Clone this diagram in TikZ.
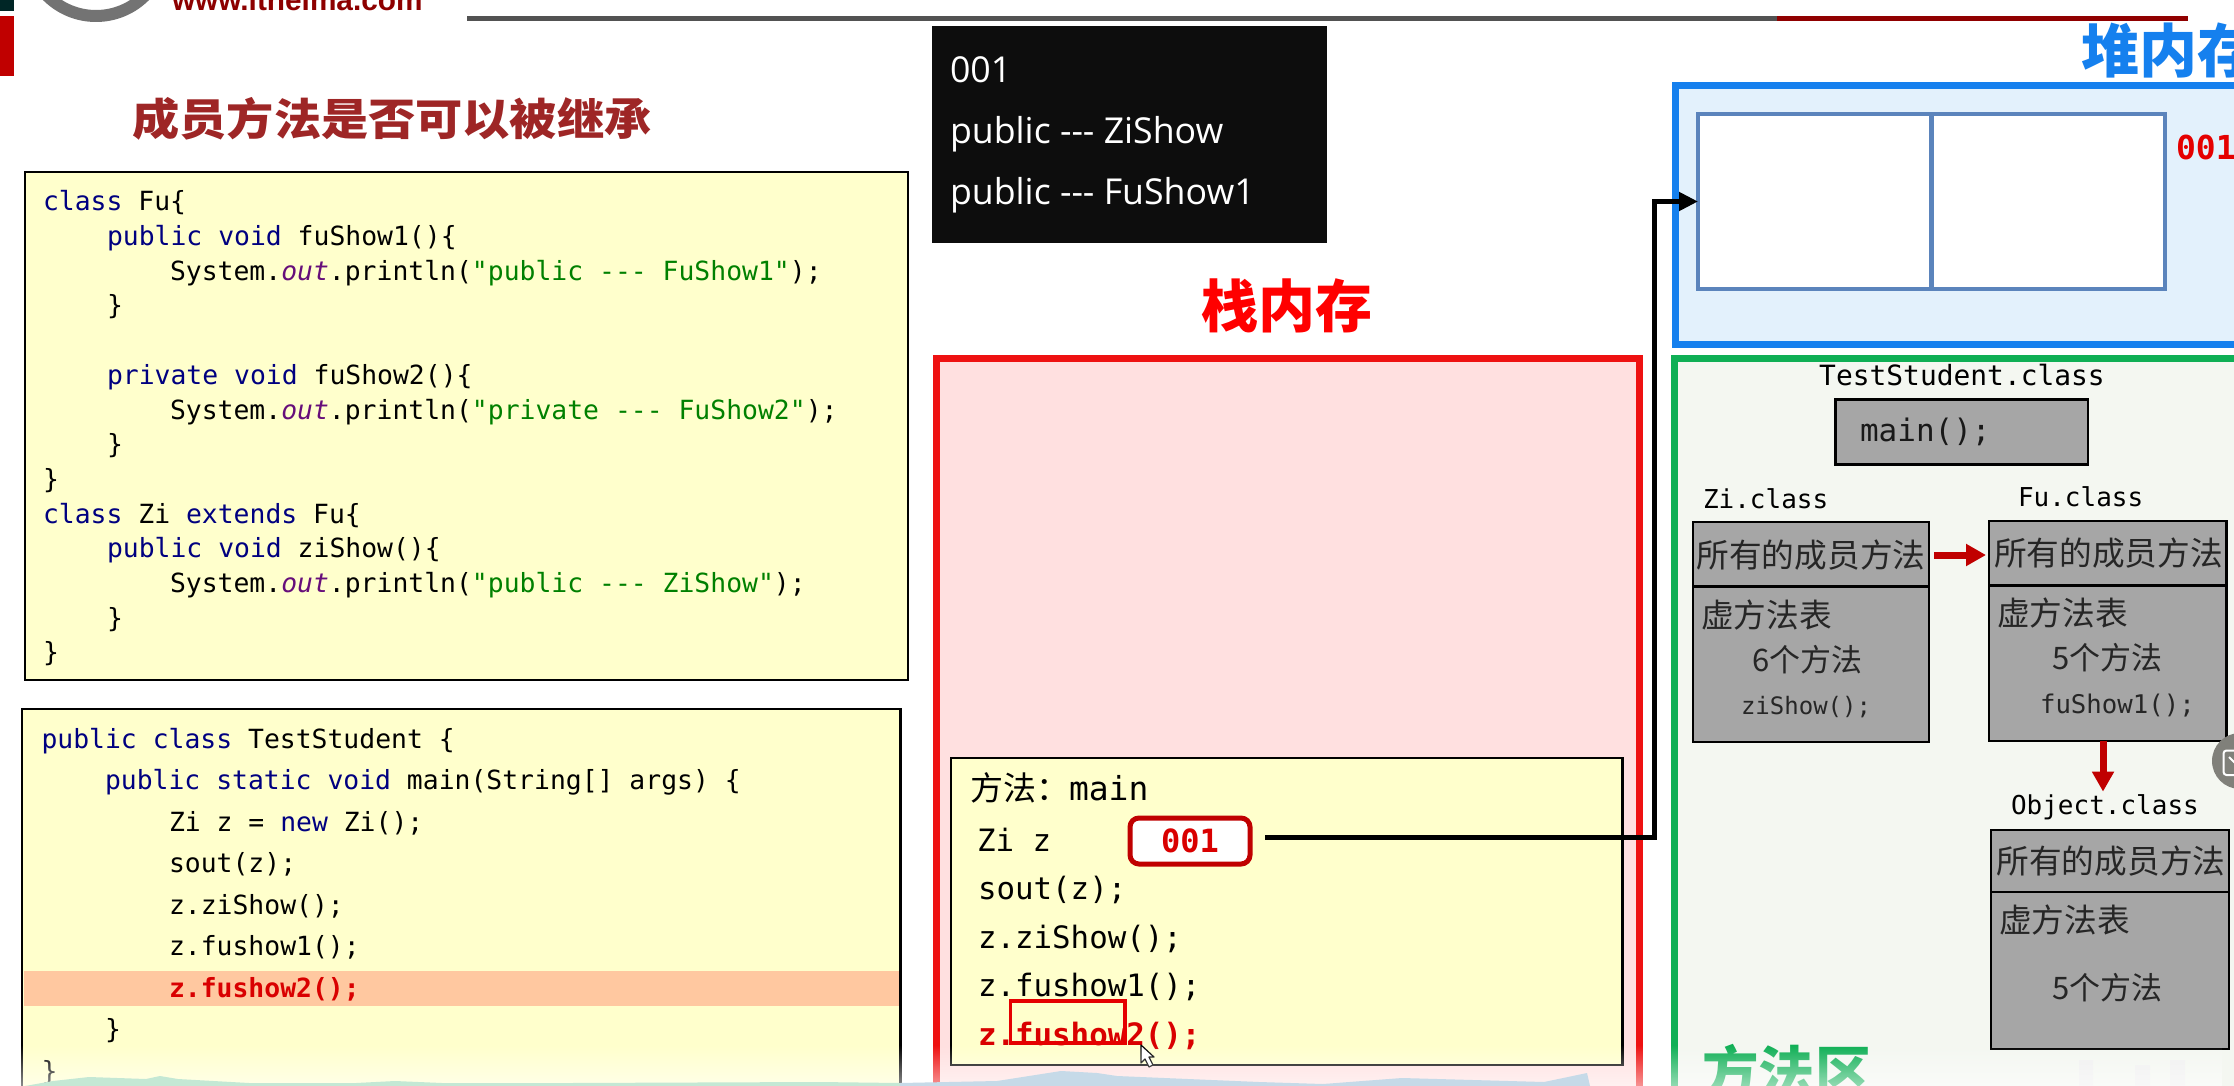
\documentclass[tikz,border=0pt]{standalone}
\usepackage{fontspec}
\usetikzlibrary{fadings,arrows.meta}
\setmainfont{Liberation Sans}
\setmonofont{DejaVu Sans Mono}
\newfontfamily\cjk{Noto Sans CJK SC}
\newfontfamily\cjkt[FakeStretch=1.08]{Noto Sans CJK SC}
\newfontfamily\consf{Open Sans}
\definecolor{kwc}{HTML}{000080}
\definecolor{strc}{HTML}{008000}
\definecolor{outc}{HTML}{660E7A}
\definecolor{yel}{HTML}{FFFFCC}
\definecolor{gry}{HTML}{A6A6A6}
\definecolor{dred}{HTML}{C00000}
\definecolor{hl}{HTML}{FFC8A0}
\definecolor{stackfill}{HTML}{FFE0E0}
\definecolor{stackline}{HTML}{EE1111}
\definecolor{heapline}{HTML}{1580EE}
\definecolor{heapfill}{HTML}{E3F1FC}
\definecolor{cellline}{HTML}{5B84BC}
\definecolor{methline}{HTML}{0FAF55}
\definecolor{methfill}{HTML}{F4F7F1}
\definecolor{btn}{HTML}{80807A}
\definecolor{wavel}{HTML}{C4E8D4}
\definecolor{waver}{HTML}{C6DAE8}
\newcommand\fs[1]{\fontsize{#1}{#1}\selectfont}
\newcommand\kw[1]{\textcolor{kwc}{#1}}
\newcommand\str[1]{\textcolor{strc}{#1}}
\newcommand\oo{\textcolor{outc}{\itshape out}}
\tikzset{
  x=1pt,y=-1pt,
  txt/.style={inner sep=0pt,outer sep=0pt,anchor=base west},
  code/.style={txt,font=\ttfamily\fs{26.4}},
  fr/.style={txt,font=\ttfamily\fs{30.8}},
  yelbox/.style={draw=black,line width=2.5pt,fill=yel,anchor=north west,inner sep=0pt,outer sep=0pt},
  grybox/.style={draw=black,line width=2.2pt,fill=gry,anchor=north west,inner sep=0pt,outer sep=0pt},
  area/.style={line width=7pt,anchor=north west,inner sep=0pt,outer sep=0pt},
  cname/.style={txt,font=\ttfamily\fs{26},text=black},
  cjkm/.style={inner sep=0pt,anchor=center,font=\cjk\fs{32.7},text=black!85},
  cell/.style={draw=cellline,line width=4.5pt,fill=white,anchor=north west,inner sep=0pt,outer sep=0pt},
  inherit/.style={-{Triangle[length=20pt,width=21pt]},draw=dred,line width=7pt},
}
\begin{document}
\begin{tikzpicture}
\useasboundingbox (0,0) rectangle (2234,1086);
\clip (0,0) rectangle (2234,1086);
\fill[white] (0,0) rectangle (2234,1086);
% header
\fill[black!70!teal] (0,0) rectangle (14,11);
\fill[dred] (0,16) rectangle (13.5,76);
\draw[black!55,line width=12pt] (96,-53) circle[radius=69];
\node[txt,font=\bfseries\fs{29.8},text=black!30!dred!95!red] (web) at (172,11) {www.itheima.com};
\fill[black!68] (467,15.7) rectangle (1777,20.7);
\fill[black!25!dred] (1777,15.7) rectangle (2188,20.7);
% title
\node[inner sep=0pt,font=\cjkt\bfseries\fs{43.7},text=red!55!black!85!white] (title) at (392,119) {成员方法是否可以被继承};
% code box 1
\node[yelbox,minimum width=883pt,minimum height=508pt] (code1) at (25,172) {};
\foreach \yy/\xx/\tt in {
 210.5/43/{\kw{class} Fu\{},
 245/107/{\kw{public} \kw{void} fuShow1()\{},
 280/170/{System.\oo.println(\str{"public --- FuShow1"});},
 314.5/107/{\}},
 384/107/{\kw{private} \kw{void} fuShow2()\{},
 419/170/{System.\oo.println(\str{"private --- FuShow2"});},
 453/107/{\}},
 488/43/{\}},
 523/43/{\kw{class} Zi \kw{extends} Fu\{},
 557.5/107/{\kw{public} \kw{void} ziShow()\{},
 592/170/{System.\oo.println(\str{"public --- ZiShow"});},
 627/107/{\}},
 661.6/43/{\}}}
 {\node[code] at (\xx,\yy) {\tt};}
% code box 2
\node[yelbox,minimum width=878.5pt,minimum height=500pt] (code2) at (22,709) {};
\fill[hl] (23.5,970.7) rectangle (899,1006);
\foreach \yy/\xx/\tt in {
 748/41.5/{\kw{public} \kw{class} TestStudent \{},
 789.5/105/{\kw{public} \kw{static} \kw{void} main(String[] args) \{},
 831/169/{Zi z = \kw{new} Zi();},
 872.5/169/{sout(z);},
 914/169/{z.ziShow();},
 955.5/169/{z.fushow1();},
 997/169/{\textcolor{red!85!black}{\bfseries z.fushow2();}},
 1038.5/105/{\}},
 1080/41.5/{\}}}
 {\node[code] at (\xx,\yy) {\tt};}
% console
\node[fill=black!95,anchor=north west,minimum width=395pt,minimum height=217pt,inner sep=0pt,outer sep=0pt] (console) at (932,25.7) {};
\foreach \yy/\tt in {83/001,143.5/public --- ZiShow,204.5/public --- FuShow1}
 {\node[txt,font=\consf\fs{35.7},text=white] at (950,\yy) {\tt};}
% stack
\node[inner sep=0pt,font=\cjk\bfseries\fs{57},text=red] (stacktitle) at (1287,306) {栈内存};
\node[area,draw=stackline,fill=stackfill,minimum width=703pt,minimum height=800pt] (stack) at (936,358) {};
\node[yelbox,minimum width=671.5pt,minimum height=307pt] (frame) at (951,758) {};
\node[fr,font=\ttfamily\fs{33}] (fmain) at (970,800) {{\cjk 方法：}main};
\node[fr] (fzi) at (977,851) {Zi z};
\node[fr] at (978,899) {sout(z);};
\node[fr] at (978,948) {z.ziShow();};
\node[fr] at (978,996) {z.fushow1();};
\node[fr,text=red!85!black,font=\ttfamily\bfseries\fs{30.8}] (fu2) at (978,1045) {z.fushow2();};
\node[draw=dred,line width=5pt,fill=white,rounded corners=9pt,minimum width=120pt,minimum height=46pt,inner sep=0pt,outer sep=0pt,font=\ttfamily\bfseries\fs{32},text=red!85!black] (addr) at (1190,841) {001};
\node[draw=red!90!black,line width=3.5pt,anchor=north west,minimum width=114.5pt,minimum height=42pt,inner sep=0pt,outer sep=0pt] (sel) at (1010.5,1001) {};
\draw[fill=white,draw=black,line width=1.2pt,line join=round] (1141,1045) -- (1141,1063) -- (1145,1059) -- (1149,1067) -- (1153,1065) -- (1149,1057) -- (1154,1057) -- cycle;
% heap
\node[inner sep=0pt,anchor=west,font=\cjk\bfseries\fs{58},text=heapline] (heaptitle) at (2081,50) {堆内存};
\node[area,draw=heapline,fill=heapfill,minimum width=700pt,minimum height=258pt] (heap) at (1675,86) {};
\node[cell,minimum width=233.5pt,minimum height=175pt] (cellL) at (1698,114) {};
\node[cell,minimum width=233.5pt,minimum height=175pt] (cellR) at (1931.5,114) {};
\node[txt,font=\ttfamily\bfseries\fs{33},text=red!90!black] (heapaddr) at (2176,160) {001};
% method area
\node[area,draw=methline,fill=methfill,minimum width=700pt,minimum height=800pt] (meth) at (1674,358) {};
\node[inner sep=0pt,font=\ttfamily\fs{27.9},text=black] (tsname) at (1962,375) {TestStudent.class};
\node[grybox,minimum width=252.5pt,minimum height=65pt] (mainbox) at (1835.5,399.5) {};
\node[txt,font=\ttfamily\fs{31},text=black!90] (mainm) at (1860,441) {main();};
% Zi
\node[cname] (ziname) at (1703,508) {Zi.class};
\node[grybox,minimum width=236pt,minimum height=220pt] (zibox) at (1693,522) {};
\draw[black,line width=3pt] (zibox.west |- 0,586) -- (zibox.east |- 0,586);
\node[cjkm] (zi1) at (1811,555) {所有的成员方法};
\node[cjkm,anchor=west] (zi2) at (1701,615) {虚方法表};
\node[cjkm,anchor=west,font=\cjk\fs{31}] (zi3) at (1752,660) {6个方法};
\node[txt,font=\ttfamily\fs{24},text=black!85] (zi4) at (1741,714) {ziShow();};
% Fu
\node[cname] (funame) at (2018,506) {Fu.class};
\node[grybox,minimum width=237.5pt,minimum height=219.6pt] (fubox) at (1989,521) {};
\draw[black,line width=2.2pt] (fubox.west |- 0,585.5) -- (fubox.east |- 0,585.5);
\node[cjkm] (fu1) at (2108.5,553) {所有的成员方法};
\node[cjkm,anchor=west] (fu2b) at (1997,613.5) {虚方法表};
\node[cjkm,anchor=west,font=\cjk\fs{31}] (fu3) at (2052,658) {5个方法};
\node[txt,font=\ttfamily\fs{25.7},text=black!85] (fu4) at (2040,713) {fuShow1();};
% Object
\node[cname] (objname) at (2011,814) {Object.class};
\node[grybox,minimum width=238pt,minimum height=219pt] (objbox) at (1991,830) {};
\draw[black,line width=2.2pt] (objbox.west |- 0,892) -- (objbox.east |- 0,892);
\node[cjkm] (obj1) at (2111,861) {所有的成员方法};
\node[cjkm,anchor=west] (obj2) at (1999,920) {虚方法表};
\node[cjkm,anchor=west,font=\cjk\fs{31}] (obj3) at (2052,988) {5个方法};
\node[inner sep=0pt,anchor=west,font=\cjk\bfseries\fs{56.5},text=methline] (methtitle) at (1702,1072) {方法区};
% connectors
\coordinate (bend) at (1654,837);
\draw[black,line width=5pt,-{Triangle[length=19pt,width=18pt]}] ([shift={(15,-4)}]addr.east) -- (bend) |- (cellL.west);
\draw[inherit] ([xshift=5pt]zibox.east |- zi1.center) -- ([xshift=-3pt]fubox.west |- zi1.center);
\draw[inherit] (fubox.south -| 2103,0) -- ++(0,51);
% floating button
\fill[btn] (2240,761) circle[radius=28];
\draw[white,line width=2pt,rounded corners=3pt] (2240,750.5) -- (2223.5,750.5) -- (2223.5,775) -- (2240,775);
\draw[white,line width=2pt] (2229,757) -- (2236,764);
% bottom fade
\fill[black!6] (2079,1060) rectangle (2093,1086) (2135,1065) rectangle (2150,1086) (2170,1060) rectangle (2185,1086);
\fill[white,path fading=north,fill opacity=.55] (0,1045) rectangle (2234,1086);
\fill[wavel] (25,1086) -- (53,1081) -- (89,1077) -- (146,1079) -- (160,1076) -- (178,1079) -- (249,1083) -- (356,1083) -- (395,1081) -- (442,1083) -- (570,1083) -- (819,1082) -- (900,1083) -- (900,1086) -- cycle;
\fill[waver] (900,1086) -- (900,1083) -- (997,1081) -- (1061,1071) -- (1097,1073) -- (1117,1076) -- (1259,1082) -- (1323,1084) -- (1402,1078) -- (1544,1082) -- (1587,1073) -- (1590,1086) -- cycle;
\end{tikzpicture}
\end{document}
